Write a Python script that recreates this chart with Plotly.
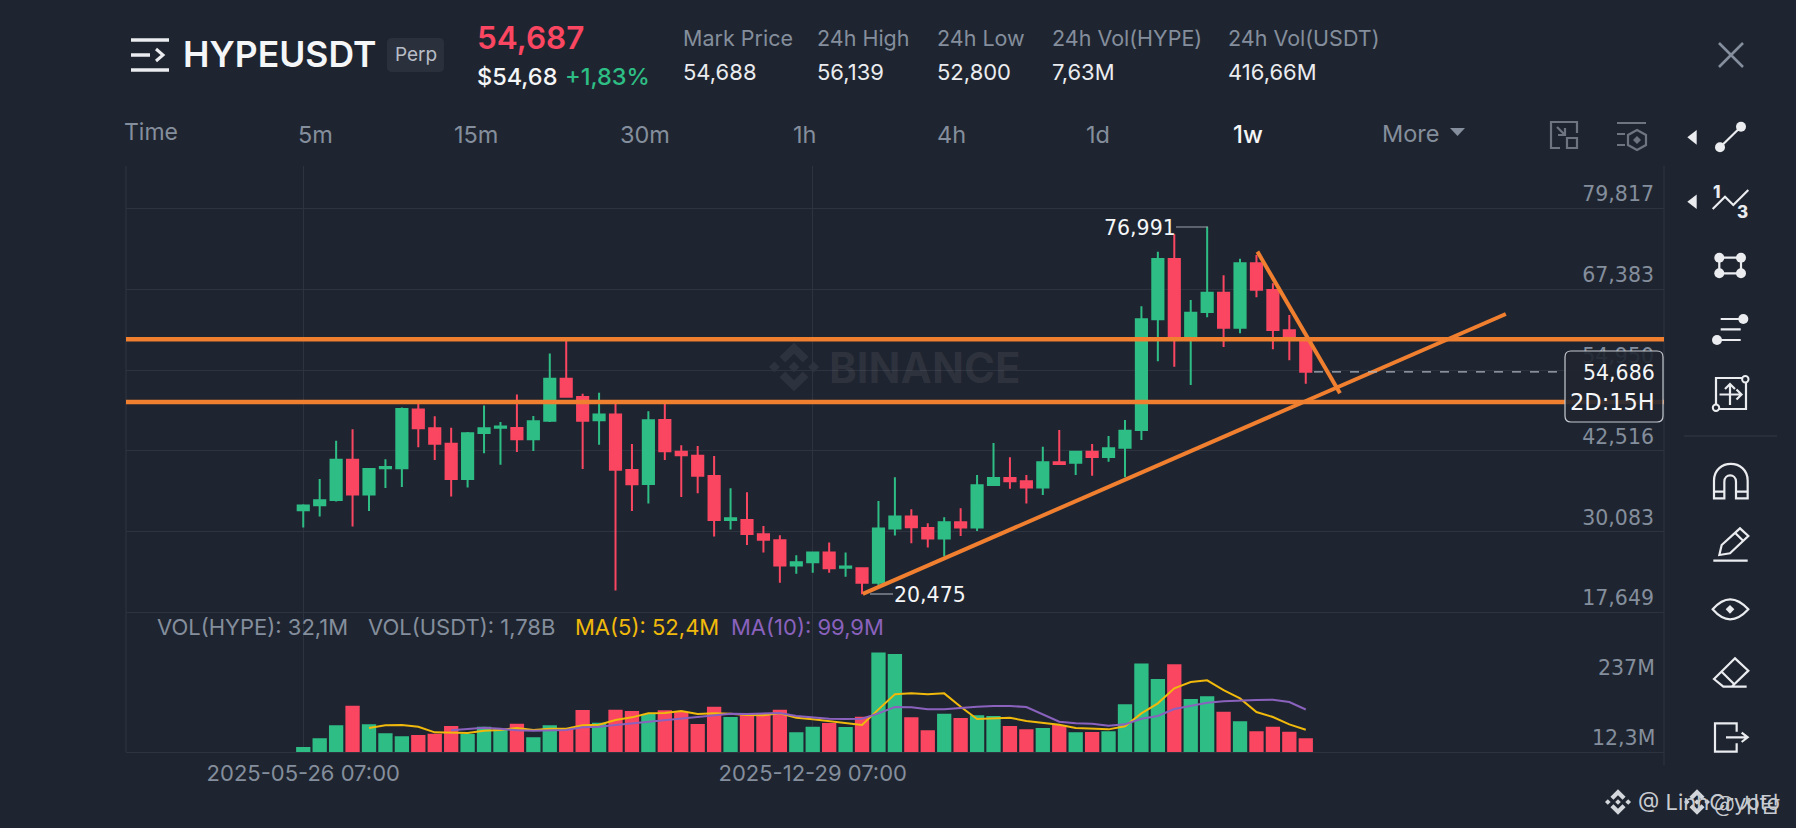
import re
import pandas as pd
import plotly.graph_objects as go

W, H = 1796, 828

# weekly candles
dates = pd.date_range("2025-05-26 07:00", periods=62, freq="7D")

opens = [33380, 34150, 34970, 41170, 35790, 39840, 39840, 48905, 45985, 43630,
         38200, 45270, 46090, 46035, 44295, 47165, 53620, 50800, 47215, 48135,
         39580, 37430, 47265, 42400, 41785, 38660, 31900, 31900, 29695, 28770,
         24880, 25390, 26875, 24520, 24470, 22215, 30565, 32410, 30665, 29030,
         31540, 30720, 37275, 38350, 37840, 36865, 40760, 40710, 42400, 41580,
         43015, 45735, 62765, 72050, 59840, 63895, 66870, 61485, 71385, 67280,
         61075, 59585]
highs = [34300, 38200, 44090, 45830, 39890, 41220, 49210, 49830, 47830, 46090,
         45420, 49520, 46960, 51210, 47880, 57510, 59560, 51310, 51470, 49830,
         43575, 48600, 49830, 43370, 43270, 41735, 36765, 36150, 30975, 29540,
         26465, 26880, 28410, 26875, 24620, 34815, 38455, 33535, 31385, 32305,
         33690, 38815, 43730, 41530, 38815, 43165, 45730, 42555, 43575, 44805,
         47265, 64765, 73180, 75845, 65740, 76991, 69535, 72100, 72665, 68305,
         63430, 60000]
lows = [30720, 32410, 34715, 30870, 33280, 36815, 36970, 43065, 41120, 35480,
        36865, 42140, 40400, 42350, 42500, 46960, 50700, 39735, 43475, 21035,
        33280, 34405, 41120, 35430, 35995, 29335, 30410, 28055, 26875, 22215,
        23595, 23750, 23750, 23135, 20475, 21755, 29490, 28310, 27645, 26260,
        29440, 30205, 37175, 36710, 34405, 35740, 40500, 38815, 38710, 40860,
        38455, 44195, 56300, 55480, 52660, 63075, 58510, 60610, 66150, 58150,
        56455, 52865]
closes = [34100, 34920, 41170, 35790, 39735, 40040, 48960, 45985, 43630, 38200,
          45215, 45985, 46290, 44295, 47060, 53620, 50850, 47165, 48135, 39630,
          37380, 47215, 42450, 41835, 38710, 31900, 32155, 29745, 28825, 24880,
          25390, 26875, 24470, 24725, 22215, 30565, 32410, 30770, 29030, 31540,
          30720, 37225, 38350, 37840, 36865, 40760, 40505, 42400, 41580, 42910,
          45625, 62765, 72050, 59585, 63790, 66870, 61485, 71385, 67330, 61125,
          59995, 54686]

# volume in millions
volumes = [11.7, 32.1, 62.6, 108.8, 65, 43.8, 36.8, 39.9, 43.1, 61.1,
           42.3, 59.5, 53.2, 66.6, 34.5, 62.6, 53.2, 98.7, 68.9, 99.4,
           96.3, 89.3, 97.9, 94.7, 65.8, 106.5, 82.2, 89.3, 89.3, 99.4,
           46.2, 59.5, 68.1, 58.7, 83, 234, 230, 81.4, 50.9, 90,
           79.9, 86.1, 84.6, 61.1, 53.2, 56.4, 63.4, 46.2, 47, 48.5,
           112, 208, 171.5, 206, 124.5, 130.8, 94.7, 72, 48.5, 59.5,
           47.8, 32.1]
ma5 = [None] * 4 + [56.4, 62.6, 63.4, 59.5, 46.2, 45.4, 44.6, 50.1, 51.7, 56.4,
                    51.7, 54.8, 54.8, 62.6, 64.2, 75.2, 81.4, 90.8, 91.6, 96.3,
                    89.3, 90.8, 90, 86.9, 86.1, 90.8, 80.6, 76.7, 72, 66.6,
                    63.4, 100.2, 135.5, 137.8, 135.5, 137.8, 106.5, 77.5, 78.3, 80.6,
                    72.8, 68.9, 64.2, 56.4, 54, 53.2, 60.3, 90.8, 114.3, 149.6,
                    164.4, 168.3, 145.6, 126, 94, 82.2, 65, 52.4]
ma10 = [None] * 9 + [50.9, 54.8, 57.2, 54.8, 50.9, 50.1, 50.1, 51.7, 57.9, 59.5,
                     63.4, 67.3, 70.5, 75.2, 78.3, 81.4, 86.1, 90, 89.3, 90.8,
                     91.6, 84.6, 80.6, 78.3, 77.5, 78.3, 90.8, 105.7, 104.9, 100.2,
                     100.2, 104.1, 106.5, 108.1, 108.1, 105.7, 89.3, 71.3, 67.3, 66.6,
                     61.9, 65, 78.3, 84.6, 101, 108.8, 115.9, 119, 121.4, 122.1,
                     122.9, 117.5, 99.9]

price_ticks = [17649, 30083, 42516, 54950, 67383, 79817]
price_labels = ["17,649", "30,083", "42,516", "54,950", "67,383", "79,817"]
date_ticks = ["2025-05-26 07:00", "2025-12-29 07:00"]
date_labels = ["2025-05-26 07:00", "2025-12-29 07:00"]

# hand drawn lines on the chart
level_prices = [59714, 50032]
rise_x = ["2026-01-19 15:00", "2026-10-20 12:00"]
rise_y = [20524, 63586]
fall_x = ["2026-07-06 17:00", "2026-08-10 21:00"]
fall_y = [73180, 51377]
last_price = 54686

BG = "#1F2530"
GRID = "#2D333F"
GREEN = "#2EBE85"
RED = "#FA4661"
ORANGE = "#F07F2F"
GRAY = "#848E9C"
WHITE = "#EAECEF"
YELLOW = "#F0B90B"
PURPLE = "#8A62BE"
WIDE = "DejaVu Sans"


def fx(x):
    return x / W


def fy(y):
    return 1 - y / H


def to_path(s, ox=0, oy=0, k=1.0):
    # pixel path (origin top left) -> paper path
    nums = iter(re.findall(r"[A-Z]|-?[\d.]+", s))
    out = []
    for t in nums:
        if t.isalpha():
            out.append(t)
        else:
            x = ox + float(t) * k
            y = oy + float(next(nums)) * k
            out.append(f"{fx(x):.5f},{fy(y):.5f}")
    return " ".join(out)


shapes = []
annotations = []


def stroke(s, ox=0, oy=0, k=1.0, color=WHITE, width=2.2, layer="above"):
    shapes.append(dict(type="path", xref="paper", yref="paper", layer=layer,
                       path=to_path(s, ox, oy, k), line=dict(color=color, width=width)))


def fill(s, ox=0, oy=0, k=1.0, color=WHITE, layer="above"):
    shapes.append(dict(type="path", xref="paper", yref="paper", layer=layer,
                       path=to_path(s, ox, oy, k), fillcolor=color, line=dict(width=0)))


def dot(x, y, r, color=WHITE, hollow=False):
    shapes.append(dict(type="circle", xref="paper", yref="paper", layer="above",
                       x0=fx(x - r), x1=fx(x + r), y0=fy(y + r), y1=fy(y - r),
                       fillcolor=BG if hollow else color,
                       line=dict(color=color, width=2 if hollow else 0)))


def label(text, x, y, size=21, color=WHITE, anchor="left", weight=400, family=None):
    # annotations sit a little inside their anchor
    if anchor == "left":
        x -= 2
    elif anchor == "right":
        x += 2
    font = dict(size=size, color=color, weight=weight)
    if family:
        font["family"] = family
    annotations.append(dict(text=text, x=fx(x), y=fy(y), xref="paper", yref="paper",
                            xanchor=anchor, yanchor="middle", showarrow=False,
                            font=font, borderpad=0))


def logo(cx, cy, h, color, layer="above"):
    k = h / 74
    ox, oy = cx - 102 * k, cy - 140 * k
    for p in ["M 102 124 L 118 140 L 102 156 L 86 140 Z",
              "M 44 124 L 60 140 L 44 156 L 28 140 Z",
              "M 160 124 L 176 140 L 160 156 L 144 140 Z",
              "M 102 68 L 145 110 L 128 127 L 102 101 L 76 127 L 59 110 Z",
              "M 102 212 L 145 170 L 128 153 L 102 179 L 76 153 L 59 170 Z"]:
        fill(p, ox, oy, k, color, layer)


# header
stroke("M 131 40 L 169 40", width=3.5)
stroke("M 131 55 L 150 55", width=3.5)
stroke("M 156 49 L 163 55 L 156 61", width=3)
stroke("M 131 70 L 169 70", width=3.5)
label("HYPEUSDT", 184, 55, 35.5, "#F5F6F7", weight=600)
fill("M 392 38 L 439 38 Q 444 38 444 43 L 444 67 Q 444 72 439 72 L 392 72 Q 387 72 387 67 L 387 43 Q 387 38 392 38 Z",
     color="#2B313C")
label("Perp", 415.5, 55, 19, "#B7BDC6", "center")
label("54,687", 478, 38, 31.5, RED, weight=600)
label("$54,68", 478, 77, 23.5, "#F5F6F7", weight=500)
label("+1,83%", 566, 77, 23.5, GREEN, weight=500)

stat_names = ["Mark Price", "24h High", "24h Low", "24h Vol(HYPE)", "24h Vol(USDT)"]
stat_values = ["54,688", "56,139", "52,800", "7,63M", "416,66M"]
stat_x = [684, 818, 938, 1053, 1229]
for name, val, x in zip(stat_names, stat_values, stat_x):
    label(name, x, 38, 21.5, GRAY)
    label(val, x, 72, 22, WHITE)

stroke("M 1719 43 L 1743 67 M 1743 43 L 1719 67", color=GRAY, width=2.6)

# timeframe row
label("Time", 125, 132, 23, GRAY)
frames = ["5m", "15m", "30m", "1h", "4h", "1d"]
frame_x = [315, 476, 645, 804, 951, 1098]
for f, x in zip(frames, frame_x):
    label(f, x, 134, 23.5, GRAY, "center")
label("1w", 1248, 134, 24, "#F5F6F7", "center", 500)
label("More", 1410, 133, 23.5, GRAY, "center")
fill("M 1450 128 L 1465 128 L 1457.5 136 Z", color=GRAY)

stroke("M 1560 148 L 1551 148 L 1551 122 L 1577 122 L 1577 133", color="#6E7580")
stroke("M 1567 138 L 1577 138 L 1577 148 L 1567 148 Z", color="#6E7580")
stroke("M 1557 127 L 1565 135 M 1565 128 L 1565 135 L 1558 135", color="#6E7580")
stroke("M 1617 123 L 1646 123 M 1617 134 L 1625 134 M 1617 145 L 1625 145", color="#6E7580")
stroke("M 1637 130 L 1646 135 L 1646 145 L 1637 150 L 1628 145 L 1628 135 Z", color="#6E7580")
fill("M 1637 136 L 1641 140 L 1637 144 L 1633 140 Z", color="#6E7580")

# right toolbar
fill("M 1687.3 137.3 L 1696.7 130 L 1696.7 144.7 Z")
fill("M 1687.3 201.7 L 1696.7 194.4 L 1696.7 209 Z")
stroke("M 1720 147.3 L 1741 126.7")
dot(1720, 147.3, 5)
dot(1741, 126.7, 5)
stroke("M 1712.7 209 L 1725 196.7 L 1733.3 205 L 1748.3 190")
label("1", 1717.3, 191.5, 17, WHITE, "center", 800)
label("3", 1742.7, 212, 17, WHITE, "center", 800)
stroke("M 1719.3 257.7 L 1741 257.7 L 1741 273.3 L 1719.3 273.3 Z")
for px_, py_ in [(1719.3, 257.7), (1741, 257.7), (1719.3, 273.3), (1741, 273.3)]:
    dot(px_, py_, 5)
stroke("M 1720.7 319 L 1743 319 M 1720.7 329.3 L 1740.7 329.3 M 1717 340 L 1740.7 340")
dot(1743.3, 319, 5)
dot(1717, 340, 5)
stroke("M 1716 378 L 1746 378 L 1746 409 L 1716 409 Z")
dot(1745.3, 379.3, 3.2, hollow=True)
dot(1716, 407.7, 3.2, hollow=True)
stroke("M 1730 405 L 1730 384 M 1725 389 L 1730 384 L 1735 389 M 1719.5 394.5 L 1741.5 394.5 M 1736.5 389.5 L 1741.5 394.5 L 1736.5 399.5")
stroke("M 1684 436 L 1777 436", color=GRID, width=1.5)

stroke("M 102 175 L 102 122 C 102 55 203 55 203 122 L 203 175 L 168 175 L 168 125 C 168 100 133 100 133 125 L 133 175 Z M 102 155 L 133 155 M 168 155 L 203 155",
       1680, 440, 1 / 3)
stroke("M 118 345 L 125 315 L 180 265 L 205 288 L 150 340 Z M 165 278 L 190 303 M 100 362 L 203 362",
       1680, 440, 1 / 3)
stroke("M 98 508 Q 150 448 205 508 Q 150 568 98 508 Z", 1680, 440, 1 / 3)
fill("M 150 495 L 163 508 L 150 521 L 137 508 Z", 1680, 440, 1 / 3)
stroke("M 102 717 L 165 655 L 205 692 L 155 740 L 130 740 Z M 155 740 L 200 740 M 125 695 L 165 735",
       1680, 440, 1 / 3)
stroke("M 170 875 L 170 850 L 105 850 L 105 935 L 170 935 L 170 910 M 138 892 L 200 892 M 185 878 L 203 892 L 185 906",
       1680, 440, 1 / 3)

# watermarks
logo(794, 367, 25, "#2D333E", "below")
label("BINANCE", 925, 367, 42, "rgba(255,255,255,0.07)", "center", 700)
logo(1618, 802, 13, "#D3D6DA")
logo(1697, 802, 13, "#D3D6DA")
label("@ LinhCrypto", 1639, 802, 22, "#C8CBD0")
label("@ 시담", 1715, 802, 22, "#C8CBD0", family="Noto Sans CJK KR")

# volume panel header and axis text
label("VOL(HYPE): 32,1M", 158, 627, 22, GRAY)
label("VOL(USDT): 1,78B", 369, 627, 22, GRAY)
label("MA(5): 52,4M", 576, 627, 22, YELLOW)
label("MA(10): 99,9M", 732, 627, 22, PURPLE)
label("237M", 1654, 668, 20.5, GRAY, "right", family=WIDE)
label("12,3M", 1654, 738, 20.5, GRAY, "right", family=WIDE)

# frame lines
stroke("M 126 166 L 126 752", color=GRID, width=1.2, layer="below")
stroke("M 1664 166 L 1664 765", color=GRID, width=1.2, layer="below")
stroke("M 126 612.5 L 1664 612.5", color=GRID, width=1.2, layer="below")

# high / low markers
label("76,991", 1105, 228, 20.5, "#F5F6F7", family=WIDE)
stroke("M 1176 227 L 1208 227", color="#9AA1AC", width=1.2)
label("20,475", 895, 595, 20.5, "#F5F6F7", family=WIDE)
stroke("M 870 594 L 893 594", color="#9AA1AC", width=1.2)

# support / resistance levels, then last price box on top of them
for p in level_prices:
    shapes.append(dict(type="line", xref="paper", yref="y", layer="above",
                       x0=fx(126), x1=fx(1664), y0=p, y1=p,
                       line=dict(color=ORANGE, width=4.5)))
shapes.append(dict(type="line", xref="paper", yref="y", layer="above",
                   x0=fx(1314), x1=fx(1564), y0=last_price, y1=last_price,
                   line=dict(color="#AEB4BE", width=1.2, dash="dash")))
shapes.append(dict(type="path", xref="paper", yref="paper", layer="above",
                   path=to_path("M 1571 351 L 1657 351 Q 1663 351 1663 357 L 1663 416 Q 1663 422 1657 422 L 1571 422 Q 1565 422 1565 416 L 1565 357 Q 1565 351 1571 351 Z"),
                   fillcolor="rgba(31,37,48,0.9)", line=dict(color="#C6CAD0", width=1.2)))
label("54,686", 1654, 373, 20.5, "#F5F6F7", "right", family=WIDE)
label("2D:15H", 1654, 402, 22.5, "#F5F6F7", "right", family=WIDE)

vol_colors = [GREEN if c >= o else RED for o, c in zip(opens, closes)]

fig = go.Figure()

fig.add_trace(go.Candlestick(
    x=dates, open=opens, high=highs, low=lows, close=closes,
    increasing=dict(line=dict(color=GREEN, width=2), fillcolor=GREEN),
    decreasing=dict(line=dict(color=RED, width=2), fillcolor=RED),
    whiskerwidth=0, xaxis="x", yaxis="y", showlegend=False,
))

# drawn trend lines
fig.add_trace(go.Scatter(x=rise_x, y=rise_y, mode="lines", showlegend=False,
                         line=dict(color=ORANGE, width=4), xaxis="x", yaxis="y"))
fig.add_trace(go.Scatter(x=fall_x, y=fall_y, mode="lines", showlegend=False,
                         line=dict(color=ORANGE, width=4), xaxis="x", yaxis="y"))

fig.add_trace(go.Bar(x=dates, y=volumes, marker=dict(color=vol_colors, line=dict(width=0)),
                     xaxis="x2", yaxis="y2", showlegend=False))
fig.add_trace(go.Scatter(x=dates, y=ma5, mode="lines", showlegend=False,
                         line=dict(color=YELLOW, width=2), xaxis="x2", yaxis="y2"))
fig.add_trace(go.Scatter(x=dates, y=ma10, mode="lines", showlegend=False,
                         line=dict(color=PURPLE, width=2), xaxis="x2", yaxis="y2"))

x_range = ["2025-03-11 19:00", "2026-12-26 21:00"]

fig.update_layout(
    width=W, height=H, margin=dict(l=0, r=0, t=0, b=0, pad=0),
    paper_bgcolor=BG, plot_bgcolor=BG,
    font=dict(family="Inter, Roboto, sans-serif", color=GRAY, size=20),
    boxgap=0.03, bargap=0.13, hovermode=False,
    shapes=shapes, annotations=annotations,
    xaxis=dict(domain=[fx(126), fx(1664)], range=x_range, anchor="y",
               rangeslider=dict(visible=False), tickmode="array",
               tickvals=date_ticks, showticklabels=False, ticks="",
               showgrid=True, gridcolor=GRID, gridwidth=1.2, zeroline=False),
    xaxis2=dict(domain=[fx(126), fx(1664)], range=x_range, anchor="y2", matches="x",
                tickmode="array", tickvals=date_ticks, ticktext=date_labels,
                ticks="outside", ticklen=1, tickcolor="rgba(0,0,0,0)",
                tickfont=dict(size=22, color=GRAY),
                showgrid=True, gridcolor=GRID, gridwidth=1.2, zeroline=False,
                showline=True, linecolor=GRID, linewidth=1.2),
    yaxis=dict(domain=[fy(612.5), fy(166)], range=[17649, 86357], side="right",
               anchor="x", tickmode="array", tickvals=price_ticks, ticktext=price_labels,
               ticklabelposition="inside top", ticks="",
               tickfont=dict(size=20.5, color=GRAY, family=WIDE),
               ticklabelstandoff=7,
               showgrid=True, gridcolor=GRID, gridwidth=1.2, zeroline=False),
    yaxis2=dict(domain=[fy(752), fy(612.5)], range=[0, 327.8], anchor="x2",
                showticklabels=False, ticks="", showgrid=False, zeroline=False),
)

fig.write_html("out.html", config=dict(displayModeBar=False),
               post_script="document.body.style.margin='0';document.body.style.background='%s';document.documentElement.style.overflow='hidden';" % BG)
